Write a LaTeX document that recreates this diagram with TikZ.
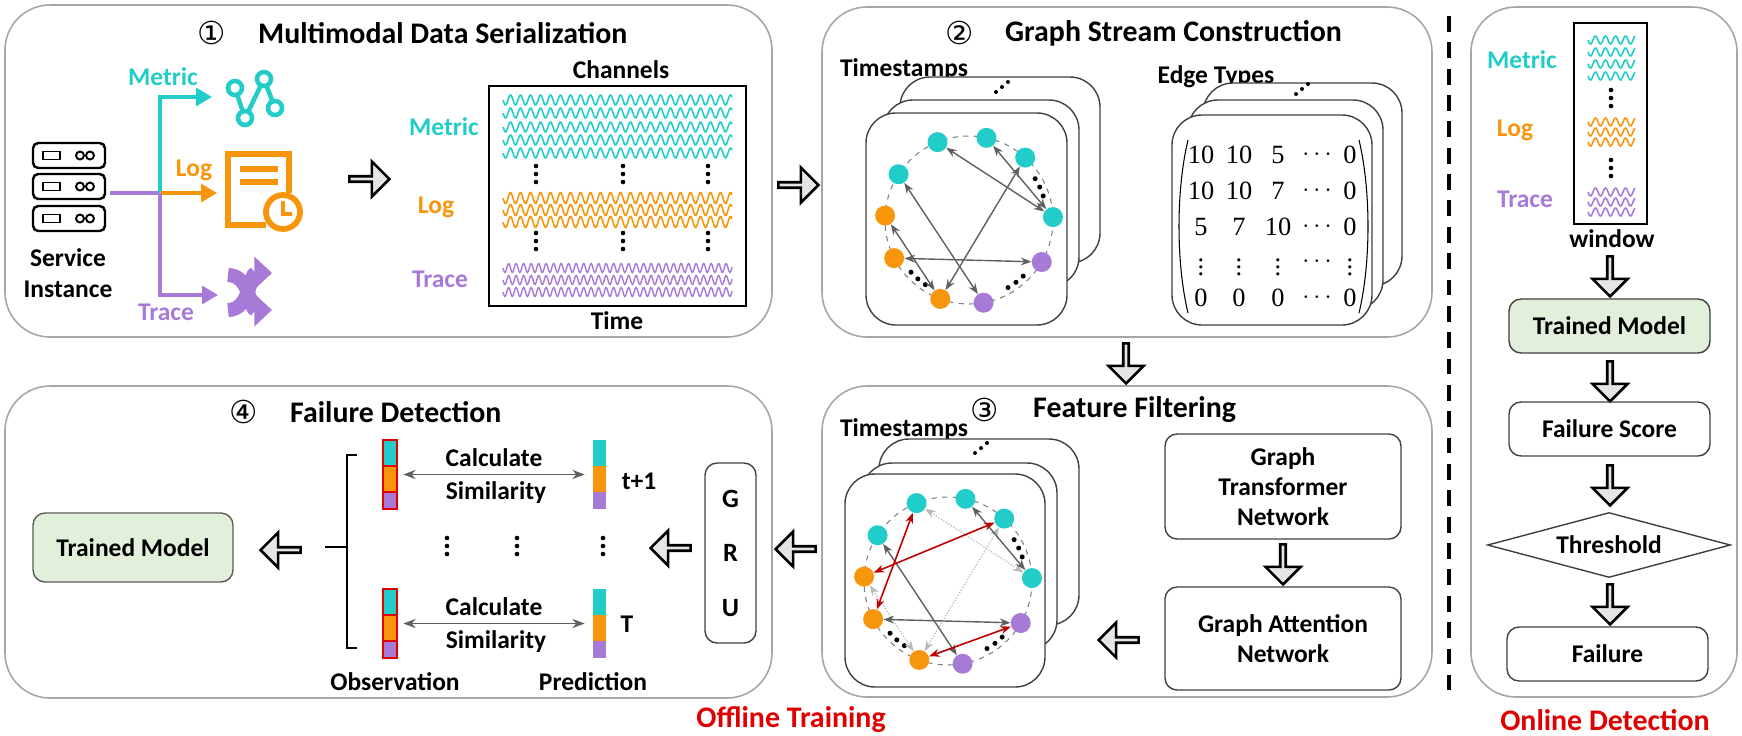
\documentclass[tikz,border=0pt]{standalone}
\usepackage{fontspec}
\setmainfont{Carlito}
\newfontfamily\dv{DejaVu Sans}
\newfontfamily\tms{Liberation Serif}
\usetikzlibrary{shapes.arrows,shapes.geometric,arrows.meta,calc}
\definecolor{cteal}{HTML}{22CCC8}
\definecolor{corange}{HTML}{F7960C}
\definecolor{cpurple}{HTML}{A87AD8}
\definecolor{cgreen}{HTML}{E2EFDA}
\definecolor{cred}{HTML}{E00000}
\definecolor{cedge}{HTML}{606060}
\newcommand\mywave[6]{\draw[#1,line width=0.9pt] plot[domain=#2:#3,samples=#6] (\x,{#4+#5*sin(36*(\x-#2))});}
\newcommand\mywaveb[6]{\draw[#1,line width=0.8pt] plot[domain=#2:#3,samples=#6] (\x,{#4+#5*sin(48*(\x-#2))});}
\newcommand\vdts[2]{\fill (#1,#2-8) circle (2.3) (#1,#2) circle (2.3) (#1,#2+8) circle (2.3);}
\tikzset{
 panel/.style={draw=gray!70,line width=0.9pt,rounded corners=0.9cm},
 card/.style={draw=black!75,fill=white,line width=0.8pt,rounded corners=0.6cm},
 blk/.style={single arrow,draw=black,line width=1.5pt,fill=gray!20,minimum height=0.8cm,minimum width=0.7cm,single arrow head extend=0.14cm,inner sep=0pt},
 ttl/.style={font=\fontsize{17}{17}\selectfont\bfseries,anchor=west},
 num/.style={font=\dv\fontsize{18}{18}\selectfont},
 lbl/.style={font=\fontsize{14.5}{14.5}\selectfont\bfseries},
 gnode/.style={circle,minimum size=0.4cm,inner sep=0pt},
 ged/.style={cedge,line width=0.8pt,{Stealth[length=6pt]}-{Stealth[length=6pt]}},
 gred/.style={cred!85!black,line width=0.9pt,{Stealth[length=6pt]}-{Stealth[length=6pt]}},
 glt/.style={gray!55,line width=0.7pt,densely dotted,{Stealth[length=6pt]}-{Stealth[length=6pt]}},
 box/.style={draw=black!75,line width=0.8pt,rounded corners=0.24cm,font=\fontsize{14.5}{17}\selectfont\bfseries,align=center,inner sep=0pt},
 mnum/.style={font=\tms\fontsize{15}{15}\selectfont,inner sep=0pt},
}
\newcommand\mygraph[3]{%
\begin{scope}[shift={(#1,#2)}]
\draw[gray,dashed,line width=0.6pt] (0,0) circle (84);
\node[gnode,fill=cteal] (#3t1) at (-147:84) {};
\node[gnode,fill=cteal] (#3t2) at (-112:84) {};
\node[gnode,fill=cteal] (#3t3) at (-78:84) {};
\node[gnode,fill=cteal] (#3t4) at (-48:84) {};
\node[gnode,fill=cteal] (#3t5) at (-2:84) {};
\node[gnode,fill=cpurple] (#3p1) at (30:84) {};
\node[gnode,fill=cpurple] (#3p2) at (80:84) {};
\node[gnode,fill=corange] (#3o3) at (110:84) {};
\node[gnode,fill=corange] (#3o2) at (153:84) {};
\node[gnode,fill=corange] (#3o1) at (-177:84) {};
\foreach \a in {-18,-25,-32,124,131,138,46,53,60} \fill (\a:78) circle (2.5);
\end{scope}}
\begin{document}
\begin{tikzpicture}[x=0.02cm,y=-0.02cm]
\useasboundingbox (0,0) rectangle (1742,735);
% ---------- panels
\draw[panel] (5,5) rectangle (772,337);
\draw[panel] (822,7) rectangle (1432,337);
\draw[panel] (822,386) rectangle (1432,697);
\draw[panel] (5,386) rectangle (772,698);
\draw[panel] (1471,7) rectangle (1737,697);
\draw[black,line width=2pt,dash pattern=on 9pt off 6pt] (1449,16) -- (1449,690);
\node[font=\fontsize{17}{17}\selectfont\bfseries,text=cred] (off) at (791,720) {Offline Training};
\node[font=\fontsize{17}{17}\selectfont\bfseries,text=cred] (on) at (1605,720) {Online Detection};
% ---------- panel 1
\node[num] (n1) at (212,33) {①};
\node[ttl] (t1) at (252,33) {Multimodal Data Serialization};
\foreach \yy in {155.5,186.5,218.5}{
 \draw[black,line width=1.4pt,rounded corners=3pt] (33,\yy-12.5) rectangle (105,\yy+12.5);
 \draw[black,line width=1.1pt] (43,\yy-4) rectangle (60,\yy+4);
 \draw[black,line width=1.1pt] (80,\yy) circle (4) (90,\yy) circle (4);}
\node[lbl,align=center,font=\fontsize{14.5}{18}\selectfont\bfseries] (si) at (68,273) {Service\\Instance};
\coordinate (tr) at (160,193);
\draw[cpurple,line width=2.2pt] (110,193) -- (tr);
\draw[cteal,line width=2.2pt,-{Triangle[length=9pt,width=10pt]}] (tr) -- (160,97) -- (212,97);
\draw[corange,line width=2.2pt,-{Triangle[length=9pt,width=10pt]}] (tr) -- (217,193);
\draw[cpurple,line width=2.2pt,-{Triangle[length=9pt,width=10pt]}] (tr) -- (160,295) -- (218,295);
\node[lbl,text=cteal] (lm) at (163,77) {Metric};
\node[lbl,text=corange] (ll) at (194,170) {Log};
\node[lbl,text=cpurple] (lt) at (166,312) {Trace};
% metric icon
\begin{scope}[cteal,line width=2.6pt]
\draw (235,88) -- (245,118) -- (264,79) -- (275,108);
\foreach \p in {(235,88),(245,118),(264,79),(275,108)} \draw[fill=white] \p circle (7);
\end{scope}
% log icon
\begin{scope}[corange,line width=3.3pt]
\draw (266,225) -- (228,225) -- (228,154) -- (289,154) -- (289,193);
\draw (240,169) -- (278,169) (240,182) -- (278,182);
\draw[fill=white] (283,212) circle (17);
\draw[line width=2.2pt] (283,201) -- (283,214) -- (292,214);
\end{scope}
% trace icon
\begin{scope}[cpurple,line width=8pt]
\draw[-{Triangle[length=10pt,width=18pt]}] (228,275) .. controls (250,275) and (250,310) .. (272,310);
\draw[-{Triangle[length=10pt,width=18pt]}] (228,310) .. controls (250,310) and (250,273) .. (272,273);
\end{scope}
\node[blk] (a1) at (368,179) {};
% channels
\node[lbl] (ch) at (621,70) {Channels};
\node[draw,line width=1.5pt,minimum width=5.14cm,minimum height=4.4cm,inner sep=0pt] (cb) at (617.5,196) {};
\node[lbl] (tm) at (617,321) {Time};
\node[lbl,text=cteal] (cm) at (444,127) {Metric};
\node[lbl,text=corange] (cl) at (436,207) {Log};
\node[lbl,text=cpurple] (ct) at (440,279) {Trace};
\foreach \yy in {100,113,127,140,153} {\mywave{cteal}{503}{732}{\yy}{5}{230}}
\foreach \yy in {198,210,222} {\mywave{corange}{503}{732}{\yy}{5.5}{230}}
\foreach \yy in {268,280,292} {\mywaveb{cpurple}{503}{732}{\yy}{4.5}{300}}
\vdts{536}{174}\vdts{623}{174}\vdts{708}{174}
\vdts{536}{241}\vdts{623}{241}\vdts{708}{241}
\node[blk] (a2) at (797,185) {};
% ---------- panel 2
\node[num] (n2) at (960,33) {②};
\node[ttl] (t2) at (999,33) {Graph Stream Construction};
\node[lbl] (ts2) at (904,70) {Timestamps};
\draw[card] (900,77) rectangle (1100,263);
\draw[card] (883,100) rectangle (1079,287);
\draw[card] (866,113) rectangle (1067,325);
\fill (996,92) circle (2) (1002,87) circle (2) (1008,82) circle (2);
\mygraph{969}{220}{a}
\draw[ged] (at2) -- (at5);
\draw[ged] (at3) -- (at5);
\draw[ged] (at4) -- (ao3);
\draw[ged] (at1) -- (ap2);
\draw[ged] (ao1) -- (ao3);
\draw[ged] (ao2) -- (ap1);
\node[lbl] (et) at (1216,77) {Edge Types};
\draw[card] (1203,83) rectangle (1402,286);
\draw[card] (1188,100) rectangle (1383,310);
\draw[card] (1172,115) rectangle (1372,325);
\fill (1296,94) circle (2) (1302,89) circle (2) (1308,84) circle (2);
\foreach \rw/\yy/\ea/\eb/\ec/\ed/\ee in {1/155/10/10/5/$\cdots$/0, 2/191/10/10/7/$\cdots$/0, 3/227/5/7/10/$\cdots$/0, 4/262/$\vdots$/$\vdots$/$\vdots$/$\cdots$/$\vdots$, 5/298/0/0/0/$\cdots$/0}{
 \node[mnum] (m\rw a) at (1201,\yy) {\ea};
 \node[mnum] (m\rw b) at (1239,\yy) {\eb};
 \node[mnum] (m\rw c) at (1278,\yy) {\ec};
 \node[mnum] (m\rw d) at (1317,\yy) {\ed};
 \node[mnum] (m\rw e) at (1350,\yy) {\ee};}
\coordinate (pl1) at (1188,140); \coordinate (pl2) at (1188,313);
\coordinate (pr1) at (1359,140); \coordinate (pr2) at (1359,313);
\draw[line width=0.6pt] (pl1) .. controls (1176,190) and (1176,263) .. (pl2);
\draw[line width=0.6pt] (pr1) .. controls (1371,190) and (1371,263) .. (pr2);
\node[blk,shape border rotate=270] (a3) at (1126,362) {};
% ---------- panel 3
\node[num] (n3) at (985,410) {③};
\node[ttl] (t3) at (1027,410) {Feature Filtering};
\node[lbl] (ts3) at (904,430) {Timestamps};
\draw[card] (879,439) rectangle (1079,625);
\draw[card] (862,463) rectangle (1057,650);
\draw[card] (845,474) rectangle (1045,687);
\fill (975,453) circle (2) (981,448) circle (2) (987,443) circle (2);
\mygraph{948}{581}{b}
\draw[glt] (bt2) -- (bt5);
\draw[glt] (bt4) -- (bo3);
\draw[glt] (bo1) -- (bo3);
\draw[ged] (bt3) -- (bt5);
\draw[ged] (bt1) -- (bp2);
\draw[ged] (bo2) -- (bp1);
\draw[gred] (bt2) -- (bo2);
\draw[gred] (bt4) -- (bo1);
\draw[gred] (bo3) -- (bp1);
\node[box,minimum width=4.72cm,minimum height=2.1cm] (gtn) at (1283,486.5) {Graph\\Transformer\\Network};
\node[box,minimum width=4.72cm,minimum height=2.06cm] (gan) at (1283,638.5) {Graph Attention\\Network};
\node[blk,shape border rotate=270] (a4) at (1283,563) {};
\node[blk,shape border rotate=200] (a5) at (1120,640) {};
\node[blk,shape border rotate=180] (a6) at (797,549) {};
% ---------- panel 4
\node[num] (n4) at (244,412) {④};
\node[ttl] (t4) at (284,412) {Failure Detection};
\node[box,fill=cgreen,draw=black!65,minimum width=4cm,minimum height=1.38cm] (tm4) at (133,547.5) {Trained Model};
\node[blk,shape border rotate=180] (a7) at (282,550) {};
\draw[line width=1.3pt] (325,547) -- (347,547) (357,455) -- (347,455) -- (347,648) -- (357,648);
\foreach \yo/\nm in {440/o1,589/o2}{
 \fill[cteal] (383,\yo) rectangle (397,\yo+26);
 \fill[corange] (383,\yo+26) rectangle (397,\yo+52);
 \fill[cpurple] (383,\yo+52) rectangle (397,\yo+69);
 \draw[cred,line width=1.2pt] (383,\yo) rectangle (397,\yo+69) (383,\yo+26) -- (397,\yo+26) (383,\yo+52) -- (397,\yo+52);
 \fill[cteal] (593,\yo) rectangle (606,\yo+26);
 \fill[corange] (593,\yo+26) rectangle (606,\yo+52);
 \fill[cpurple] (593,\yo+52) rectangle (606,\yo+69);
 \node[inner sep=0pt,minimum width=0.28cm,minimum height=1.38cm] (\nm l) at (390,\yo+34.5) {};
 \node[inner sep=0pt,minimum width=0.26cm,minimum height=1.38cm] (\nm r) at (599.5,\yo+34.5) {};
 \draw[cedge,line width=1pt,{Stealth[length=7pt]}-{Stealth[length=7pt]}] ($(\nm l.east)+(6,0)$) -- ($(\nm r.west)+(-8,0)$);
 \node[lbl] (\nm c) at (494,\yo+18) {Calculate};
 \node[lbl] (\nm s) at (496,\yo+53) {Similarity};}
\node[lbl] (tp1) at (639,481) {t+1};
\node[lbl] (tT) at (627,624) {T};
\vdts{447}{546}\vdts{517}{546}\vdts{603}{546}
\node[lbl] (obs) at (395,682) {Observation};
\node[lbl] (pre) at (593,682) {Prediction};
\node[blk,shape border rotate=180] (a8) at (672,548) {};
\node[box,minimum width=1.02cm,minimum height=3.6cm,font=\fontsize{15}{31}\selectfont\bfseries] (gru) at (730.5,553) {G\\R\\U};
% ---------- online panel
\node[draw,line width=1.5pt,minimum width=1.46cm,minimum height=4.02cm,inner sep=0pt] (win) at (1610.5,123.5) {};
\foreach \yy in {40,52,64,76} {\mywave{cteal}{1588}{1635}{\yy}{4}{60}}
\foreach \yy in {122,132,142} {\mywave{corange}{1588}{1635}{\yy}{4}{60}}
\foreach \yy in {192,202,212} {\mywave{cpurple}{1588}{1635}{\yy}{4}{60}}
\vdts{1611}{98}\vdts{1611}{168}
\node[lbl,text=cteal] (om) at (1522,60) {Metric};
\node[lbl,text=corange] (ol) at (1515,130) {Log};
\node[lbl,text=cpurple] (ot) at (1525,199) {Trace};
\node[lbl] (ow) at (1612,239) {window};
\node[blk,shape border rotate=270] (b1) at (1610,275) {};
\node[box,fill=cgreen,minimum width=4.02cm,minimum height=1.08cm] (otm) at (1609.5,326) {Trained Model};
\node[blk,shape border rotate=270] (b2) at (1610,380) {};
\node[box,minimum width=4.02cm,minimum height=1.08cm] (ofs) at (1609.5,429) {Failure Score};
\node[blk,shape border rotate=270] (b3) at (1610,484) {};
\node[diamond,aspect=3.74,draw=black!75,line width=0.8pt,inner sep=0pt,minimum width=4.86cm,minimum height=1.3cm,font=\fontsize{14.5}{14.5}\selectfont\bfseries] (oth) at (1609,545) {Threshold};
\node[blk,shape border rotate=270] (b4) at (1610,603) {};
\node[box,minimum width=4.02cm,minimum height=1.08cm] (ofl) at (1607.5,654) {Failure};
\end{tikzpicture}
\end{document}
